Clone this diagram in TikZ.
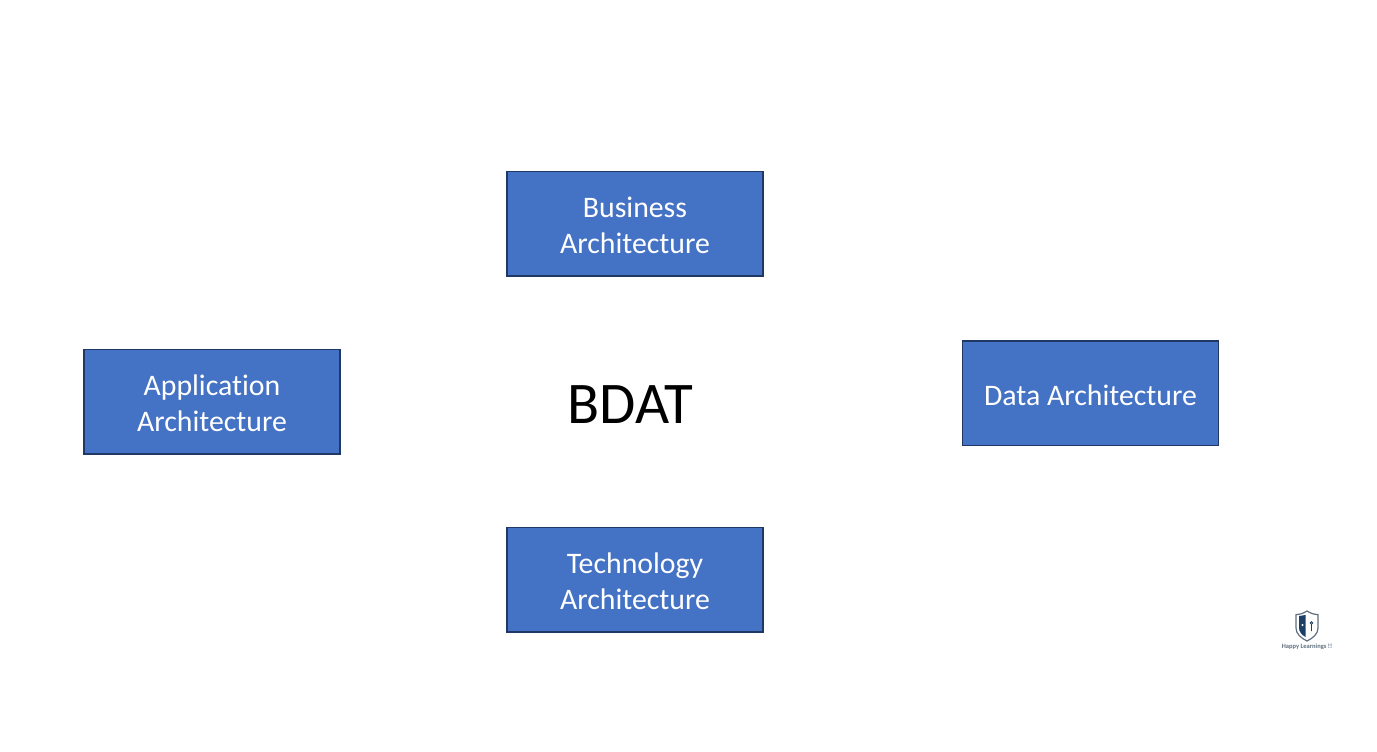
\documentclass[tikz,border=0pt]{standalone}
\usepackage{fontspec}
\setmainfont[RawFeature={-liga}]{Carlito}
\definecolor{boxblue}{HTML}{4472C4}
\definecolor{boxline}{HTML}{1F3864}
\definecolor{shieldc}{HTML}{5F6F80}
\definecolor{doorc}{HTML}{1B3F66}
\tikzset{
  archbox/.style={draw=boxline,fill=boxblue,line width=1.5pt,minimum width=256pt,minimum height=104.5pt,inner sep=0pt},
  archtext/.style={label={[text=white,align=center,font=\fontsize{29.8}{36}\selectfont,inner sep=0pt,yshift=-2pt]center:{#1}}},
}
\begin{document}
\begin{tikzpicture}[x=1pt,y=-1pt]
\useasboundingbox (0,0) rectangle (1377,752);
\node[archbox,archtext={Business\\Architecture}] (business) at (635,223.5) {};
\node[archbox,archtext={Application\\Architecture}] (application) at (212,401.5) {};
\node[archbox,archtext={Data Architecture}] (data) at (1090.5,393) {};
\node[archbox,archtext={Technology\\Architecture}] (technology) at (635,579.5) {};
\node[font=\fontsize{59}{66}\selectfont,text=black,inner sep=0pt] (bdat) at (630.5,404.5) {BDAT};
% logo
\draw[shieldc,line width=1.2pt,fill=white,line join=round] (1307,611) .. controls (1303,613.5) and (1300,614.5) .. (1296,614.5) -- (1296,628) .. controls (1296,634) and (1301,638) .. (1307,641) .. controls (1313,638) and (1318,634) .. (1318,628) -- (1318,614.5) .. controls (1314,614.5) and (1311,613.5) .. (1307,611) -- cycle;
\fill[doorc] (1299,616) -- (1305.5,615) -- (1305.5,637) .. controls (1302,635) and (1299,632) .. (1299,628) -- cycle;
\fill[white] (1302.5,625) circle (1.2);
\draw[doorc,line width=0.8pt] (1311.5,623) circle (1.3) (1311.5,624.3) -- (1311.5,631);
\node[font=\fontsize{6.5}{7}\selectfont\bfseries,text=shieldc,inner sep=0pt] (logotext) at (1307,647) {Happy Learnings !!};
\end{tikzpicture}
\end{document}
